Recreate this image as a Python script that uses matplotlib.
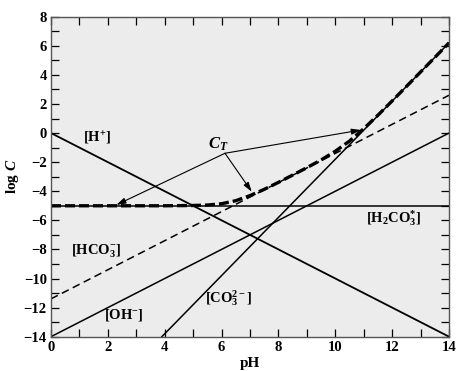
import matplotlib
matplotlib.use("Agg")
import matplotlib.pyplot as plt

plt.rcParams['font.family'] = ['Liberation Serif', 'DejaVu Serif']
plt.rcParams['mathtext.fontset'] = 'custom'
plt.rcParams['mathtext.rm'] = 'Liberation Serif:bold'
plt.rcParams['mathtext.it'] = 'Liberation Serif:bold:italic'
plt.rcParams['mathtext.bf'] = 'Liberation Serif:bold'

# Species lines (endpoints)
h_ph = [0, 14]
h_log = [0, -14]
oh_ph = [0, 14]
oh_log = [-14, 0]
h2co3_ph = [0, 14]
h2co3_log = [-5, -5]
hco3_ph = [0, 14]
hco3_log = [-11.4, 2.6]
co3_ph = [3.9, 14]
co3_log = [-14, 6.2]

# Total carbonate C_T
ct_ph = [0, 2, 4, 5, 5.5, 6, 6.5, 7, 7.5, 8, 8.5, 9, 9.5, 10, 10.5, 11,
         11.5, 12, 12.5, 13, 14]
ct_log = [-5.0, -5.0, -5.0, -4.98, -4.95, -4.86, -4.65, -4.30, -3.87, -3.39,
          -2.89, -2.38, -1.85, -1.25, -0.55, 0.30, 1.23, 2.21, 3.20, 4.20, 6.2]

fig = plt.figure(figsize=(4.74, 3.71), dpi=100)
ax = fig.add_axes([0.1076, 0.0925, 0.8397, 0.8625])
ax.set_facecolor('#ececec')

ax.plot(h_ph, h_log, color='black', lw=1.3)
ax.plot(oh_ph, oh_log, color='black', lw=1.1)
ax.plot(h2co3_ph, h2co3_log, color='black', lw=1.1)
ax.plot(hco3_ph, hco3_log, color='black', lw=1.1, ls=(0, (5, 3)))
ax.plot(co3_ph, co3_log, color='black', lw=1.1)
ax.plot(ct_ph, ct_log, color='black', lw=2.4, ls=(0, (3, 1.2)))

# Annotations
origin = (6.12, -1.39)
ax.text(5.9, -0.75, r'$C_T$', fontsize=12, ha='center', va='center')
for tgt in [(2.3, -4.94), (7.06, -4.03), (10.9, 0.21)]:
    ax.annotate('', xy=tgt, xytext=origin,
                arrowprops=dict(arrowstyle='-|>,head_length=0.7,head_width=0.22',
                                color='black', lw=0.8,
                                mutation_scale=8, shrinkA=0, shrinkB=0))

fs = 10.5
ax.text(1.64, -0.35, r'[H$^{+}$]', fontsize=fs, ha='center', va='center', fontweight='bold')
ax.text(1.6, -8.15, r'[HCO$_3^{-}$]', fontsize=fs, ha='center', va='center', fontweight='bold')
ax.text(2.55, -12.5, r'[OH$^{-}$]', fontsize=fs, ha='center', va='center', fontweight='bold')
ax.text(6.25, -11.35, r'[CO$_3^{2-}$]', fontsize=fs, ha='center', va='center', fontweight='bold')
ax.text(12.05, -5.85, r'[H$_2$CO$_3^{*}$]', fontsize=fs, ha='center', va='center', fontweight='bold')

ax.set_xlim(0, 14)
ax.set_ylim(-14, 8)
ax.set_xticks(range(0, 15, 2))
ax.set_xticks(range(0, 15, 1), minor=True)
ax.set_yticks(range(-14, 9, 2))
ax.set_yticks(range(-14, 9, 1), minor=True)
ax.set_yticklabels([str(v).replace('-', '\u2212') for v in range(-14, 9, 2)])
ax.tick_params(which='both', direction='in', top=True, right=True,
               labelsize=10.5, pad=3, length=6, width=0.9)
for lab in ax.get_xticklabels() + ax.get_yticklabels():
    lab.set_fontweight('bold')
for s in ax.spines.values():
    s.set_color('#555555')
    s.set_linewidth(1)

ax.set_xlabel('pH', fontsize=11, fontweight='bold', labelpad=2)
ax.set_ylabel(r'log $C$', fontsize=11, fontweight='bold', labelpad=2)

fig.savefig('out.png', dpi=100, facecolor='white')
